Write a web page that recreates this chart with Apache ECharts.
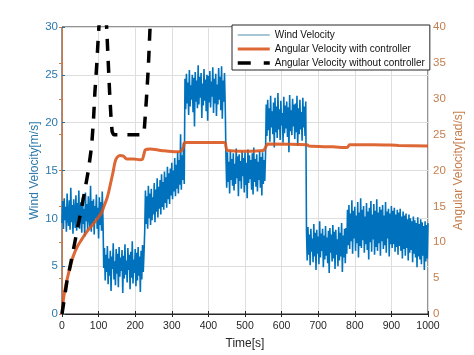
<!DOCTYPE html>
<html>
<head>
<meta charset="utf-8">
<script src="https://cdn.jsdelivr.net/npm/echarts@6/dist/echarts.min.js"></script>
<style>
html,body{margin:0;padding:0;background:#fff;}
#chart{width:474px;height:355px;}
</style>
</head>
<body>
<div id="chart"></div>
<script>
// ---- data ----
var timeTicks = [0,100,200,300,400,500,600,700,800,900,1000];
var windStep = 2; // s between wind samples
var windSeg1 = [9.5,11.8,8.9,12.1,9.8,11.2,8.6,12.6,10.1,9.2,11.9,8.8,13.2,9.6,11.4,8.4,12.0,10.5,9.0,12.4,8.7,11.6,9.9,12.9,8.9,10.8,11.7,8.5,12.2,9.4,11.0,8.1,12.7,9.7,11.5,8.8,12.3,10.2,9.1,13.4,8.6,11.8,9.5,12.0,8.3,11.3,10.0,12.5,8.9,11.1,7.9,12.2,9.3,11.7,8.7,12.8,9.8];
var windSeg2 = [4.8,6.9,3.5,6.2,4.4,7.1,3.1,5.8,4.0,6.6,2.4,6.0,4.7,7.4,3.6,5.5,3.0,6.8,4.2,6.3,2.8,7.0,3.9,5.9,4.5,6.7,2.2,6.1,3.7,7.3,4.1,5.6,3.3,6.9,4.6,6.2,2.6,6.5,3.8,7.6,3.2,5.7,4.3,6.8,2.9,6.4,3.5,7.0,4.0,6.0,2.3,6.6,3.6,7.2,4.4,6.3];
var windSeg3 = [8.7,12.9,9.4,12.3,8.9,13.4,10.0,12.6,9.3,13.1,9.8,12.2,10.4,13.7,9.6,13.0,10.7,14.2,10.1,13.3,11.0,14.0,10.4,14.6,11.2,13.8,10.9,14.9,11.6,14.3,11.1,15.4,12.0,14.7,11.5,15.2,12.4,15.8,12.0,15.0,12.8,16.3,12.3,15.6,13.1,16.9,12.6,16.1,13.5,18.8,13.0,16.6,14.0,17.9,13.6];
var windSeg4 = [24.6,21.4,25.1,22.0,24.2,20.8,25.5,21.7,23.9,22.4,25.0,21.1,24.7,19.6,25.3,22.2,24.4,21.5,26.0,21.9,24.8,22.6,25.2,20.5,24.1,21.8,25.6,22.3,24.5,21.2,25.0,20.2,24.9,22.1,25.4,21.6,24.3,22.7,25.8,21.0,24.6,22.0,25.1,20.7,24.0,21.9,25.7,22.4,24.8,21.3,25.9,20.4,24.4,22.2,25.2,21.7];
var windSeg5 = [16.4,13.2,16.9,13.8,15.9,12.6,17.1,14.0,16.2,13.4,16.8,12.9,15.7,13.6,17.3,14.2,16.5,12.3,16.7,13.9,16.0,13.1,17.0,14.4,16.3,12.7,16.9,13.5,15.8,12.1,17.2,13.7,16.6,14.1,16.1,13.0,16.8,12.5,17.4,13.8,16.2,13.3,16.7,12.8,15.9,14.0,17.0,13.2,16.4,12.4,16.9,13.6,16.1,13.9,16.6];
var windSeg6 = [21.9,18.6,22.4,19.2,21.5,18.0,22.8,19.5,21.2,18.8,22.1,17.4,22.6,19.0,21.7,18.4,23.1,19.3,21.4,18.2,22.3,19.7,21.0,17.9,22.7,18.9,21.8,19.4,22.2,18.5,21.6,16.9,22.9,19.1,21.3,18.7,22.5,19.6,21.9,18.3,22.0,19.0,22.8,17.6,21.5,18.8,22.4,19.3,21.1,18.1,22.6,19.5,21.7,18.6,22.2];
var windSeg7 = [8.6,5.6,9.1,6.2,8.3,5.1,8.9,6.5,7.9,5.4,9.4,6.0,8.5,4.6,8.8,6.3,8.1,5.2,9.7,5.9,8.4,6.6,8.9,4.9,8.2,5.7,9.2,6.1,8.0,5.3,8.7,4.3,9.0,6.4,8.3,5.5,9.3,5.8,8.6,4.7,8.8,6.2,7.8,5.0,9.1,5.6,8.5,6.0,9.5,4.4,8.2,5.9,8.9,5.3,9.0,6.3];
var windSeg8 = [10.9,7.2,11.4,6.8,10.5,7.6,11.9,6.3,10.8,7.9,11.2,6.6,10.3,7.4,11.7,5.9,10.6,7.1,12.1,6.9,10.9,7.7,11.3,6.4,10.2,7.3,11.6,6.7,10.7,5.7,11.1,7.5,11.8,6.5,10.4,7.8,11.5,6.2,10.8,7.0,12.0,6.6,10.6,7.4,11.2,6.1,10.9,7.6,11.4,6.8,10.3,7.2,11.7,6.4,10.7,7.9,11.0,6.0,10.5,7.3,11.3,
  6.9,10.8,7.3,11.1,6.5,10.4,7.0,10.9,6.2,10.6,7.1,11.0,6.6,10.2,5.8,10.7,6.8,10.3,6.1,10.5,6.9,9.9,5.6,10.4,6.4,10.0,6.7,9.7,5.4,10.2,6.3,9.8,5.9,9.5,4.9,10.1,6.0,9.4,5.7,9.9,5.2,9.6,6.1,9.2,4.6,9.7,5.5,9.3,5.8,9.5];

var ctrlTime  = [0,4,10,17,24,31,42,54,67,81,95,108,116,122,127,134,140,145,150,158,168,177,195,213,220,224,228,241,270,313,325,332,336,445,448,452,500,550,556,562,669,675,740,779,786,850,920,1000];
var ctrlOmega = [0,2.1,3.9,5.5,6.9,8.1,9.4,10.4,11.4,12.3,13.2,14.1,15.2,16.0,16.9,18.5,19.9,21.2,21.8,22.1,22.0,21.6,21.6,21.5,21.6,22.3,22.9,23.0,22.8,22.6,22.7,23.3,23.9,23.9,23.3,22.8,22.7,22.8,23.2,23.7,23.6,23.4,23.3,23.2,23.6,23.6,23.5,23.4];

var openTime  = [0,13,26,40,58,72,81,86,90,95,99,104,111,118,122,126,130,134,137,141,222,225,228,232,236,240,244];
var openOmega = [0,4.4,7.6,11.3,16.0,20.0,23.4,27.0,31.0,34.8,38.5,42.5,45.0,42.5,40.0,35.5,31.0,27.3,25.4,25.0,25.0,25.8,28.0,31.0,34.5,39.3,43.0];

var leftTicks  = [0,5,10,15,20,25,30];
var rightTicks = [0,5,10,15,20,25,30,35,40];

// ---- build series data ----
var windAll = [].concat(windSeg1, windSeg2, windSeg3, windSeg4, windSeg5, windSeg6, windSeg7, windSeg8);
var windData = windAll.map(function(v, i){ return [i * windStep, v]; });
var ctrlData = ctrlTime.map(function(t, i){ return [t, ctrlOmega[i]]; });
var openData = openTime.map(function(t, i){ return [t, openOmega[i]]; });

var FONT = 'Liberation Sans, Arial, sans-serif';
var leftCol = '#2C78AA', leftLine = '#2271A8';
var rightCol = '#C57E4E', rightLine = '#CF7A45';
var dark = '#262626';

var chart = echarts.init(document.getElementById('chart'), null, {renderer: 'canvas'});
chart.setOption({
  animation: false,
  backgroundColor: '#fff',
  textStyle: {fontFamily: FONT},
  grid: {left: 62, right: 46, top: 27, bottom: 40, show: true, borderColor: dark, borderWidth: 1, backgroundColor: '#fff'},
  legend: {
    orient: 'vertical', left: 232, top: 25,
    padding: [5, 5, 2, 4],
    itemWidth: 32, itemHeight: 10, itemGap: 4,
    backgroundColor: '#fff', borderColor: dark, borderWidth: 1, borderRadius: 0,
    itemStyle: {opacity: 0},
    textStyle: {fontSize: 10, color: '#111', fontFamily: FONT},
    data: [
      {name: 'Wind Velocity', lineStyle: {width: 1.2, color: '#4a8fa8'}},
      {name: 'Angular Velocity with controller', lineStyle: {width: 3, color: '#D95319'}},
      {name: 'Angular Velocity without controller', lineStyle: {width: 3.5, color: '#000', type: [13, 13]}}
    ]
  },
  xAxis: [{
    type: 'value', min: 0, max: 1000, interval: 100,
    name: 'Time[s]', nameLocation: 'middle', nameGap: 24, nameMoveOverlap: false,
    nameTextStyle: {fontSize: 12, color: dark, fontFamily: FONT},
    axisLine: {lineStyle: {color: dark, width: 1}},
    axisTick: {inside: true, length: 3, lineStyle: {color: dark}},
    axisLabel: {fontSize: 10.5, color: dark, margin: 7, fontFamily: FONT,
      formatter: function(v){ return String(v); }},
    splitLine: {show: true, lineStyle: {color: '#dedede', width: 1}}
  }, {
    type: 'value', min: 0, max: 1000, interval: 100, position: 'top',
    axisLine: {show: true, lineStyle: {color: dark, width: 1}},
    axisTick: {inside: true, length: 3, lineStyle: {color: dark}},
    axisLabel: {show: false}, splitLine: {show: false}
  }],
  yAxis: [{
    type: 'value', min: 0, max: 30, interval: 5, position: 'left',
    name: 'Wind Velocity[m/s]', nameLocation: 'middle', nameGap: 21, nameMoveOverlap: false,
    nameTextStyle: {fontSize: 12, color: leftCol, fontFamily: FONT},
    axisLine: {show: true, lineStyle: {color: leftLine, width: 1}},
    axisTick: {show: true, inside: true, length: 3, lineStyle: {color: leftLine}},
    axisLabel: {fontSize: 11.5, color: leftCol, margin: 4, fontFamily: FONT},
    splitLine: {show: true, lineStyle: {color: '#dedede', width: 1}}
  }, {
    type: 'value', min: 0, max: 40, interval: 5, position: 'right',
    name: 'Angular Velocity[rad/s]', nameLocation: 'middle', nameGap: 25, nameMoveOverlap: false,
    nameTextStyle: {fontSize: 12, color: rightCol, fontFamily: FONT},
    axisLine: {show: true, lineStyle: {color: rightLine, width: 1}},
    axisTick: {show: true, inside: true, length: 3, lineStyle: {color: rightLine}},
    axisLabel: {fontSize: 11.5, color: rightCol, margin: 5, fontFamily: FONT},
    splitLine: {show: false}
  }],
  series: [{
    name: 'Wind Velocity', type: 'line', xAxisIndex: 0, yAxisIndex: 0,
    data: windData, showSymbol: false, symbol: 'none',
    lineStyle: {color: '#0072BD', width: 1.6}, itemStyle: {color: '#0072BD'}, z: 2
  }, {
    name: 'Angular Velocity with controller', type: 'line', xAxisIndex: 0, yAxisIndex: 1,
    data: ctrlData, showSymbol: false, symbol: 'none', smooth: 0.3,
    lineStyle: {color: '#D95319', width: 3, opacity: 0.88}, itemStyle: {color: '#D95319'}, z: 3
  }, {
    name: 'Angular Velocity without controller', type: 'line', xAxisIndex: 0, yAxisIndex: 1,
    data: openData, showSymbol: false, symbol: 'none', clip: true,
    lineStyle: {color: '#000', width: 3.5, type: [12, 10]}, itemStyle: {color: '#000'}, z: 4
  }]
});
</script>
</body>
</html>
